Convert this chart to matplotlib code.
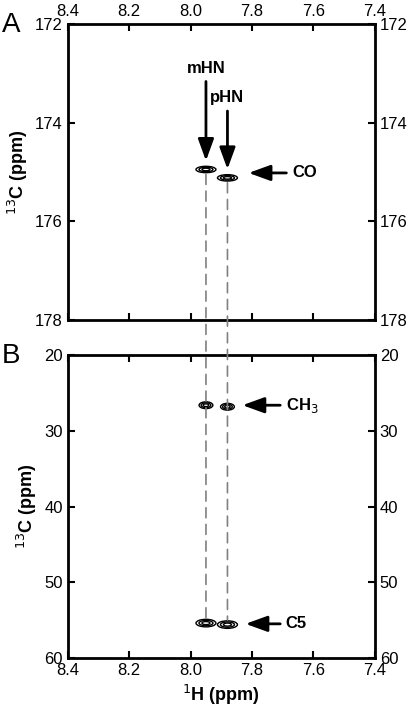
import matplotlib
matplotlib.use("Agg")
import matplotlib.pyplot as plt
from matplotlib.patches import Ellipse, ConnectionPatch

plt.rcParams["font.family"] = ["Liberation Sans", "DejaVu Sans"]

# peak positions (1H ppm, 13C ppm)
h_shift = [7.95, 7.88]
co_shift = [174.95, 175.12]
ch3_shift = [26.6, 26.8]
c5_shift = [55.4, 55.6]

fig = plt.figure(figsize=(4.16, 7.12), dpi=100)
ax1 = fig.add_axes([0.163, 0.551, 0.738, 0.415])
ax2 = fig.add_axes([0.163, 0.076, 0.738, 0.425])


def style(ax, yticks, ylim):
    ax.set_xlim(8.4, 7.4)
    ax.set_ylim(ylim)
    ax.set_xticks([8.4, 8.2, 8.0, 7.8, 7.6, 7.4])
    ax.set_yticks(yticks)
    ax.tick_params(direction="in", top=True, right=True, labelright=True,
                   width=1.5, length=5, labelsize=12)
    for s in ax.spines.values():
        s.set_linewidth(2)
    ax.set_ylabel(r"$^{13}$C (ppm)", fontsize=13, fontweight="bold")


def peak(ax, x, y, w, h):
    for f in [1.0, 0.7, 0.4]:
        ax.add_patch(Ellipse((x, y), w * f, h * f, fill=False, lw=1, color="black"))


style(ax1, [172, 174, 176, 178], (178, 172))
style(ax2, [20, 30, 40, 50, 60], (60, 20))
ax1.tick_params(labeltop=True, labelbottom=False)
ax2.set_xlabel(r"$^{1}$H (ppm)", fontsize=13, fontweight="bold")

for x, y in zip(h_shift, co_shift):
    peak(ax1, x, y, 0.065, 0.13)
for x, y in zip(h_shift, ch3_shift):
    peak(ax2, x, y, 0.045, 0.9)
for x, y in zip(h_shift, c5_shift):
    peak(ax2, x, y, 0.065, 1.0)

for x, y1, y2 in zip(h_shift, co_shift, c5_shift):
    con = ConnectionPatch((x, y1 + 0.1), (x, y2 - 0.6), "data", "data",
                          axesA=ax1, axesB=ax2, color="gray", ls=(0, (6, 4)), lw=1.2)
    fig.add_artist(con)

akw = dict(arrowstyle="-|>,head_width=0.4,head_length=1.1", color="black", lw=2)
ax1.annotate("mHN", xy=(h_shift[0], co_shift[0] - 0.12), xytext=(h_shift[0], 173.05),
             ha="center", va="bottom", fontsize=12, fontweight="bold", arrowprops=akw)
ax1.annotate("pHN", xy=(h_shift[1], co_shift[1] - 0.12), xytext=(h_shift[1], 173.65),
             ha="center", va="bottom", fontsize=12, fontweight="bold", arrowprops=akw)
ax1.annotate("CO", xy=(7.82, 175.02), xytext=(7.67, 175.02),
             ha="left", va="center", fontsize=12, fontweight="bold", arrowprops=akw)
ax2.annotate(r"CH$_3$", xy=(7.84, 26.6), xytext=(7.69, 26.6),
             ha="left", va="center", fontsize=12, fontweight="bold", arrowprops=akw)
ax2.annotate("C5", xy=(7.83, 55.5), xytext=(7.69, 55.5),
             ha="left", va="center", fontsize=12, fontweight="bold", arrowprops=akw)

fig.text(0.005, 0.955, "A", fontsize=20)
fig.text(0.005, 0.49, "B", fontsize=20)

fig.savefig("out.png", dpi=100)
